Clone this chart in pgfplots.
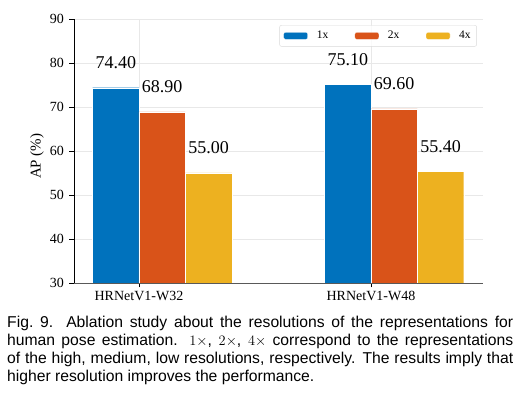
\documentclass[border=0pt]{standalone}
\usepackage{pgfplots}
\pgfplotsset{compat=1.18}
\usepackage{fontspec}
\setmainfont{Liberation Serif}
\newfontfamily\capfont{Liberation Sans}
\hyphenpenalty=10000
\exhyphenpenalty=10000
\tolerance=9999

\definecolor{c1}{HTML}{0072BD}
\definecolor{c2}{HTML}{D95319}
\definecolor{c3}{HTML}{EDB120}

\pgfplotsset{/pgf/number format/assume math mode=true}

\begin{document}
\begin{tikzpicture}
\useasboundingbox (0,0) rectangle (528pt,401pt);
\begin{axis}[
	at={(74pt,118pt)}, anchor=south west,
	scale only axis,
	width=409pt, height=264pt,
	xmin=-0.28, xmax=1.483,
	ymin=30, ymax=90,
	ytick={30,40,...,90},
	xtick={0,1},
	xticklabels={HRNetV1-W32, HRNetV1-W48},
	axis x line*=bottom,
	axis y line*=left,
	x axis line style={-, draw=gray!70!black, line width=0.8pt},
	y axis line style={-, draw=black, line width=0.8pt},
	tick align=outside,
	major tick length=4.5pt,
	tick style={black, line width=0.6pt},
	ymajorgrids, xmajorgrids,
	grid style={gray!18, line width=0.8pt},
	tick label style={font=\fontsize{14}{16}\selectfont},
	yticklabel style={xshift=-2pt},
	ylabel={AP (\%)},
	ylabel style={at={(axis description cs:-0.0905,0.48)}, anchor=center,
		font=\fontsize{15}{17}\selectfont},
	ybar,
	bar width=0.2,
	nodes near coords={\pgfmathprintnumber[fixed,fixed zerofill,precision=2]{\pgfplotspointmeta}},
	every node near coord/.append style={font=\fontsize{18}{20}\selectfont,
		anchor=base, yshift=19pt, black},
	legend columns=3,
	legend style={at={(rel axis cs:0.985,0.977)}, anchor=north east,
		draw=gray!30, rounded corners=2pt,
		fill=white, fill opacity=0.8, text opacity=1, draw opacity=1,
		font=\fontsize{11.5}{13}\selectfont,
		inner xsep=4pt, inner ysep=4pt,
		/tikz/every odd column/.append style={column sep=7pt},
		/tikz/every even column/.append style={column sep=24.5pt}},
	legend image code/.code={\fill[#1, fill opacity=1] (0pt,-3.5pt) rectangle (24pt,3.5pt);},
]
\addplot[fill=c1, draw=white, line width=0.2pt, bar shift=-0.1]
	coordinates {(0,74.40) (1,75.10)};
\addplot[fill=c2, draw=white, line width=0.2pt, bar shift=0.1]
	coordinates {(0,68.90) (1,69.60)};
\addplot[fill=c3, draw=white, line width=0.2pt, bar shift=0.3]
	coordinates {(0,55.00) (1,55.40)};
\legend{1x, 2x, 4x}
\end{axis}
\node[anchor=north west, inner sep=0pt, text width=506pt, align=justify,
	font=\capfont\fontsize{15.7}{18}\selectfont] at (7pt,85.5pt)
	{Fig.\ 9. Ablation study about the resolutions of the representations for human pose estimation. $1\times$, $2\times$, $4\times$ correspond to the representations of the high, medium, low resolutions, respectively.  The results imply that higher resolution improves the performance.};
\end{tikzpicture}
\end{document}
